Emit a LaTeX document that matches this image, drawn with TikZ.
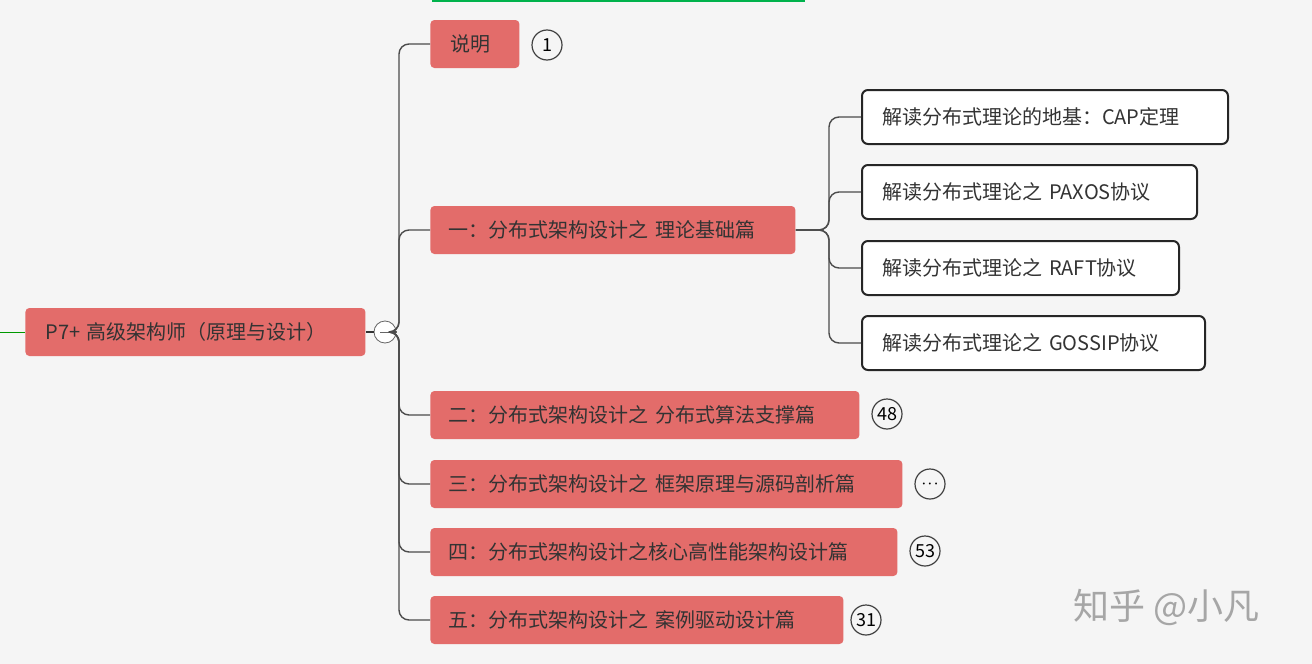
\documentclass[tikz,border=0pt]{standalone}
\usepackage{fontspec}
\setmainfont{Noto Sans CJK SC}
\begin{document}
\begin{tikzpicture}[x=0.5pt,y=-0.5pt,
 red/.style={fill=mred,draw=none,rounded corners=2pt,anchor=west,font=\fontsize{10}{11}\selectfont,text=black!80,inner xsep=0pt,minimum height=24pt},
 sub/.style={fill=white,draw=black!85,line width=1pt,rounded corners=3pt,anchor=west,font=\fontsize{10}{11}\selectfont,text=black!80,minimum height=27pt,inner xsep=10pt},
 badge/.style={circle,draw=black!75,line width=0.6pt,minimum size=15pt,inner sep=0pt,font=\fontsize{9}{10}\selectfont},
 ln/.style={draw=black!70,line width=0.7pt,rounded corners=5pt}]
\definecolor{mred}{HTML}{E36C6A}
\fill[black!4] (0,0) rectangle (1312,664);
\useasboundingbox (0,0) rectangle (1312,664);
\draw[teal!60!green,line width=1.5pt] (432,0) -- (805,0);
\draw[green!60!black,line width=0.5pt] (0,332) -- (25,332);
\node[red,minimum width=170pt,text width=170pt,anchor=west] (root) at (25,332) {\hspace*{10pt}P7+ 高级架构师（原理与设计）};
\node[circle,draw=black!60,fill=white,minimum size=11pt,inner sep=0pt] (m) at (385,332) {};
\draw[black!60] (380,332) -- (390,332);
\draw[black!80,line width=1.2pt] (root.east) -- (m.west);
\node[red,minimum width=44.5pt,text width=44.5pt] (n0) at (430,44) {\hspace*{10pt}说明};
\node[red,minimum width=182.5pt,text width=182.5pt] (n1) at (430,230) {\hspace*{9pt}一：分布式架构设计之 理论基础篇};
\node[red,minimum width=214.5pt,text width=214.5pt] (n2) at (430,415) {\hspace*{9pt}二：分布式架构设计之 分布式算法支撑篇};
\node[red,minimum width=236pt,text width=236pt] (n3) at (430,484) {\hspace*{9pt}三：分布式架构设计之 框架原理与源码剖析篇};
\node[red,minimum width=233.5pt,text width=233.5pt] (n4) at (430,552) {\hspace*{9pt}四：分布式架构设计之核心高性能架构设计篇};
\node[red,minimum width=206.5pt,text width=206.5pt] (n5) at (430,620) {\hspace*{9pt}五：分布式架构设计之 案例驱动设计篇};
\foreach \n in {n0,n1,n2,n3,n4,n5}{\draw[ln] (m.east) -- (399,332) |- (\n.west);}
\node[badge] (b0) at (547,45) {1};
\node[badge] (b2) at (887,414) {48};
\node[badge] (b3) at (930,484) {$\cdot\!\cdot\!\cdot$};
\node[badge] (b4) at (925,551) {53};
\node[badge] (b5) at (866,620) {31};
\node[sub,minimum width=183pt,text width=163pt] (s1) at (861,117) {解读分布式理论的地基：CAP定理};
\node[sub,minimum width=167.5pt,text width=147pt] (s2) at (861,192) {解读分布式理论之 PAXOS协议};
\node[sub,minimum width=158.5pt,text width=138pt] (s3) at (861,268) {解读分布式理论之 RAFT协议};
\node[sub,minimum width=171.5pt,text width=151pt] (s4) at (861,343) {解读分布式理论之 GOSSIP协议};
\foreach \n in {s1,s2,s3,s4}{\draw[ln] (n1.east) -- (829,230) |- (\n.west);}
\node[text=black!35,font=\fontsize{18}{20}\selectfont,anchor=west] (wm) at (1066,607) {知乎 @小凡};
\end{tikzpicture}
\end{document}
